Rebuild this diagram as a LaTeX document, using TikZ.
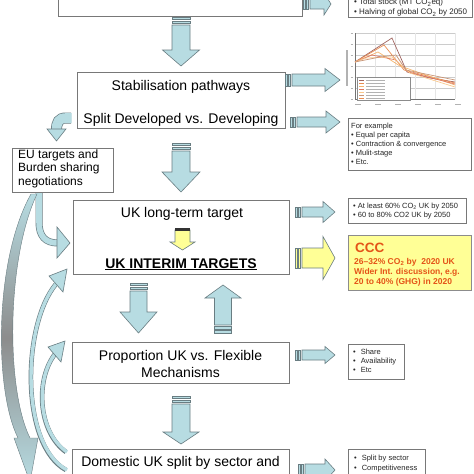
\documentclass[tikz,border=0pt]{standalone}
\usepackage{fontspec}
\setmainfont{Liberation Sans}
\usetikzlibrary{arrows.meta}

\definecolor{arrowblue}{RGB}{183,220,226}
\definecolor{arrowedge}{RGB}{105,125,130}
\definecolor{boxedge}{RGB}{120,120,120}
\definecolor{paleyellow}{RGB}{255,255,150}
\definecolor{cccred}{RGB}{228,84,24}
\definecolor{chA}{RGB}{160,100,95}
\definecolor{chB}{RGB}{232,140,80}
\definecolor{chC}{RGB}{245,180,110}
\definecolor{chD}{RGB}{220,120,100}
\definecolor{chE}{RGB}{250,200,140}
\definecolor{chF}{RGB}{200,150,120}

\newcommand{\bitem}{\textbullet\ }
\newcommand{\witem}{\textbullet\hspace{5pt}}

% striped block arrows: fill, tail, tip, centre, half shaft, half head, head length
\newcommand{\rightblock}[7]{%
  \draw[arrowline, fill=#1] (#2,#4-#5) rectangle (#2+2,#4+#5);
  \draw[arrowline, fill=#1] (#2+3.5,#4-#5) rectangle (#2+5.5,#4+#5);
  \draw[arrowline, fill=#1] (#2+7,#4-#5) -- (#3-#7,#4-#5) -- (#3-#7,#4-#6) -- (#3,#4)
    -- (#3-#7,#4+#6) -- (#3-#7,#4+#5) -- (#2+7,#4+#5) -- cycle;}
\newcommand{\downblock}[7]{%
  \draw[arrowline, fill=#1] (#2-#5,#3) rectangle (#2+#5,#3+2.5);
  \draw[arrowline, fill=#1] (#2-#5,#3+4) rectangle (#2+#5,#3+6.5);
  \draw[arrowline, fill=#1] (#2-#5,#3+8) -- (#2-#5,#4-#7) -- (#2-#6,#4-#7) -- (#2,#4)
    -- (#2+#6,#4-#7) -- (#2+#5,#4-#7) -- (#2+#5,#3+8) -- cycle;}
\newcommand{\upblock}[7]{%
  \draw[arrowline, fill=#1] (#2-#5,#3) rectangle (#2+#5,#3-2.5);
  \draw[arrowline, fill=#1] (#2-#5,#3-4) rectangle (#2+#5,#3-6.5);
  \draw[arrowline, fill=#1] (#2-#5,#3-8) -- (#2-#5,#4+#7) -- (#2-#6,#4+#7) -- (#2,#4)
    -- (#2+#6,#4+#7) -- (#2+#5,#4+#7) -- (#2+#5,#3-8) -- cycle;}

\tikzset{
  box/.style={draw=boxedge, line width=0.8pt, fill=white, inner sep=0pt},
  bigtxt/.style={font=\fontsize{14}{17}\selectfont, inner sep=0pt, anchor=base},
  smalltxt/.style={font=\fontsize{7.5}{9.3}\selectfont, align=left, anchor=north west,
    inner sep=0pt, text=black!85},
  arrowline/.style={draw=arrowedge, line width=0.6pt},
}

\begin{document}
\begin{tikzpicture}[x=1pt,y=-1pt]
  \useasboundingbox (0,0) rectangle (474,474);

  % boxes
  \node[box, minimum width=244, minimum height=30, anchor=south west] (globalbox) at (58,17) {};
  \node[box, minimum width=124, minimum height=30, anchor=south west] (stockbox) at (348,18) {};
  \node[box, minimum width=208, minimum height=56, anchor=north west] (stabbox) at (77,72) {};
  \node[box, minimum width=123, minimum height=52, anchor=north west] (examplebox) at (348,118) {};
  \node[box, minimum width=101, minimum height=44, anchor=north west] (eubox) at (12,148) {};
  \node[box, minimum width=216, minimum height=74, anchor=north west] (ukbox) at (73,200) {};
  \node[box, minimum width=118, minimum height=25, anchor=north west] (leastbox) at (348,198) {};
  \node[box, fill=paleyellow, draw=black!45, minimum width=123, minimum height=55, anchor=north west] (cccbox) at (348,235) {};
  \node[box, minimum width=217, minimum height=41, anchor=north west] (propbox) at (72,342) {};
  \node[box, minimum width=56, minimum height=35, anchor=north west] (sharebox) at (348,344) {};
  \node[box, minimum width=217, minimum height=40, anchor=north west] (dombox) at (72,449) {};
  \node[box, minimum width=77, minimum height=40, anchor=north west] (sectorbox) at (348,449) {};

  % texts
  \node[smalltxt, font=\fontsize{8}{10}\selectfont] (stocktxt) at (354,-1)
    {\bitem Total stock (MT CO\textsubscript{2}eq)\\\bitem Halving of global CO\textsubscript{2} by 2050};
  \node[bigtxt] (stabtxt) at (181,90) {Stabilisation pathways};
  \node[bigtxt] (splittxt) at (181,123) {Split Developed vs. Developing};
  \node[smalltxt, font=\fontsize{7.5}{9}\selectfont] (exampletxt) at (351,122.6)
    {For example\\\bitem Equal per capita\\\bitem Contraction \& convergence\\\bitem Mulit-stage\\\bitem Etc.};
  \node[smalltxt, font=\fontsize{12}{13.5}\selectfont, text=black] (eutxt) at (18,149.2)
    {EU targets and\\Burden sharing\\negotiations};
  \node[bigtxt] (longtxt) at (182,217) {UK long-term target};
  \node[bigtxt, font=\fontsize{14}{17}\selectfont\bfseries] (interimtxt) at (181,268) {\underline{UK INTERIM TARGETS}};
  \node[smalltxt, font=\fontsize{7.5}{9.7}\selectfont] (leasttxt) at (353,202.6)
    {\bitem At least 60\% CO\textsubscript{2} UK by 2050\\\bitem 60 to 80\% CO2 UK by 2050};
  \node[anchor=base west, inner sep=0pt, text=cccred, font=\fontsize{13.5}{16}\selectfont\bfseries] (ccctitle) at (355,252.5) {CCC};
  \node[smalltxt, text=cccred, font=\fontsize{8.5}{10.2}\selectfont\bfseries] (ccctxt) at (354,257.9)
    {26--32\% CO\textsubscript{2} by\ \ 2020 UK\\Wider Int. discussion, e.g.\\20 to 40\% (GHG) in 2020};
  \node[bigtxt] (proptxt) at (180.5,360) {Proportion UK vs. Flexible};
  \node[bigtxt] (mechtxt) at (180.5,377) {Mechanisms};
  \node[smalltxt] (sharetxt) at (353,348.6) {\witem Share\\\witem Availability\\\witem Etc};
  \node[bigtxt] (domtxt) at (180.5,466) {Domestic UK split by sector and};
  \node[smalltxt] (sectortxt) at (354,455.3) {\witem Split by sector\\\witem Competitiveness};

  % emissions chart
  \foreach \gy in {33,44,...,99}
    \draw[black!20, line width=0.3pt] (355,\gy) -- (455,\gy);
  \foreach \gx in {375,395,...,455}
    \draw[black!10, line width=0.3pt] (\gx,33) -- (\gx,99);
  \draw[black!55, line width=0.4pt] (355,33) -- (355,99) -- (455,99);
  \foreach \tx in {358,378,...,458}
    \draw[black!30, line width=1pt] (\tx-3,104) -- (\tx+3,104);
  \foreach \ty in {33,44,...,99}
    \draw[black!30, line width=0.8pt] (350.5,\ty) -- (353,\ty);
  \draw[black!30, line width=1.2pt] (347,50) -- (347,86);
  \draw[chA, line width=0.7pt] (355,62) -- (392,38) -- (407,72) -- (430,78) -- (455,82);
  \draw[chB, line width=0.7pt] (355,62) -- (384,45) -- (404,70) -- (455,83);
  \draw[chC, line width=0.7pt] (355,62) -- (378,52) -- (400,66) -- (455,85);
  \draw[chD, line width=0.7pt] (355,62) -- (372,55) -- (396,60) -- (408,72) -- (455,84);
  \draw[chE, line width=0.7pt] (355,62) -- (366,58) -- (392,57) -- (410,73) -- (455,87);
  \draw[chF, line width=0.7pt] (355,62) -- (380,57) -- (396,55) -- (406,70) -- (455,80);
  \draw[black!45, fill=white, line width=0.3pt] (357,77) rectangle (410,100);
  \foreach \ly/\lc in {80/chA,83/chB,86/chC,89/chD,92/chE,95/chF,98/chB}{
    \draw[\lc, line width=0.6pt] (359,\ly) -- (364,\ly);
    \draw[black!30, line width=0.8pt] (366,\ly) -- (385,\ly);
  }

  % block arrows
  \rightblock{arrowblue}{303}{331}{4}{5}{11}{7}
  \downblock{arrowblue}{181}{17}{66}{9}{18.5}{16}
  \rightblock{arrowblue}{285}{340}{80}{6}{11.5}{15}
  \rightblock{arrowblue}{290}{340}{122}{5}{11}{14}
  \downblock{arrowblue}{181}{143}{192}{9}{19}{20}
  \rightblock{arrowblue}{295}{335}{212}{5}{10.5}{12}
  \rightblock{paleyellow}{295}{335}{258}{10}{21.5}{12}
  \downblock{arrowblue}{138.5}{283}{333}{8.5}{18.5}{21}
  \upblock{arrowblue}{223}{333}{285}{8.5}{18}{13}
  \rightblock{arrowblue}{295}{335}{355}{5}{8.5}{10}
  \downblock{arrowblue}{181}{396}{444}{9}{18}{12}
  \rightblock{arrowblue}{298}{335}{470}{6}{11}{10}

  % small yellow arrow inside the UK box
  \draw[arrowline, fill=paleyellow] (175,230) -- (175,242) -- (170,242) -- (182.5,250)
    -- (195,242) -- (190,242) -- (190,230) -- cycle;
  \fill[black!80] (175,228) rectangle (190,230.5);

  % curved arrows on the left
  \draw[arrowedge, line width=11pt] (71,118) -- (66,118) .. controls (59,118) and (56.5,122) .. (56.5,130);
  \draw[arrowblue, line width=9.6pt] (71.5,118) -- (66,118) .. controls (59,118) and (56.5,122) .. (56.5,130);
  \draw[arrowline, fill=arrowblue] (47,129) -- (66,129) -- (56.5,141) -- cycle;

  \draw[arrowedge, line width=7pt] (39,193) -- (39,222) .. controls (39,236) and (45,243) .. (58,243);
  \draw[arrowblue, line width=5.6pt] (39,193) -- (39,222) .. controls (39,236) and (45,243) .. (58,243);
  \draw[arrowline, fill=arrowblue] (57,227) -- (70,243) -- (57,258) -- cycle;

  \shade[top color=arrowblue, bottom color=arrowblue, middle color=black!45, draw=arrowedge, line width=0.4pt]
    (31,194) .. controls (-6,260) and (-6,390) .. (18,438) -- (14,438) -- (30,482) -- (38,438)
    -- (30,438) .. controls (6,390) and (6,260) .. (37,194) -- cycle;

  \draw[arrowedge, line width=4.6pt] (66,470) .. controls (20,445) and (22,325) .. (56,284);
  \draw[arrowblue, line width=3.4pt] (67,470) .. controls (20,445) and (22,325) .. (56,284);
  \draw[arrowline, fill=arrowblue] (49,276) -- (67,269) -- (63,292) -- cycle;

  \draw[arrowedge, line width=4.6pt] (66,452) .. controls (38,432) and (35,380) .. (55,354);
  \draw[arrowblue, line width=3.4pt] (67,452) .. controls (38,432) and (35,380) .. (55,354);
  \draw[arrowline, fill=arrowblue] (48,347) -- (65,341) -- (61,362) -- cycle;
\end{tikzpicture}
\end{document}
